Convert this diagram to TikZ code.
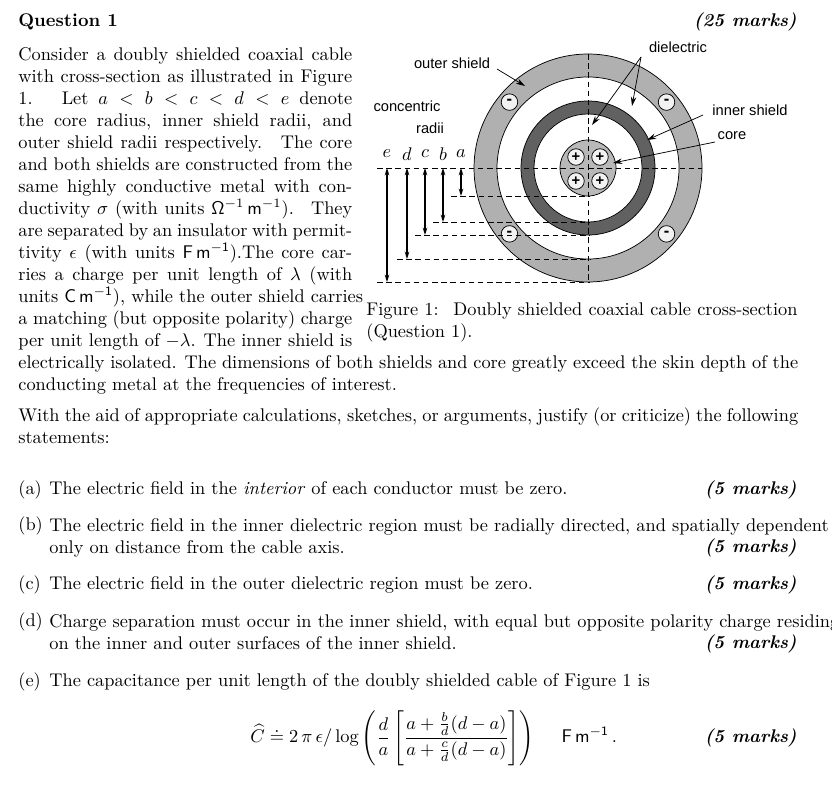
\documentclass[tikz,border=0pt]{standalone}
\usepackage{fontspec}
\newfontfamily\arial{Liberation Sans}
\usetikzlibrary{arrows.meta,calc}
\begin{document}
\begin{tikzpicture}[x=0.545pt,y=-0.545pt,
  txt/.style={inner sep=0pt,align=justify,font=\fontsize{10}{12}\selectfont},
  lab/.style={inner sep=0pt,font=\arial\fontsize{8}{9.5}\selectfont},
  mk/.style={inner sep=0pt,anchor=base east,font=\fontsize{10}{12}\selectfont\bfseries\itshape},
  ptr/.style={-{Stealth[length=5pt,width=3pt]},thin},
  dim/.style={{Stealth[length=4pt,width=2.5pt]}-{Stealth[length=4pt,width=2.5pt]},semithick},
  dsh/.style={densely dashed,thin},
  chg/.style={circle,draw,fill=white!90!gray,minimum size=9pt,inner sep=0pt,font=\arial\bfseries\fontsize{8}{8}\selectfont}]
\useasboundingbox (0,0) rectangle (832,787);
% header
\node[inner sep=0pt,anchor=base west,font=\fontsize{10}{12}\selectfont\bfseries] (q) at (18,27) {Question 1};
\node[mk] (m0) at (797,27) {(25 marks)};
% left column
\node[txt,anchor=north west,text width=182pt] (p1) at (18,47) {Consider a doubly shielded coaxial cable\linebreak
with cross-section as illustrated in Figure\linebreak
1. \ Let $a<b<c<d<e$ denote\linebreak
the core radius, inner shield radii, and\linebreak
outer shield radii respectively. \ The core\linebreak
and both shields are constructed from the\linebreak
same highly conductive metal with con-\linebreak
ductivity $\sigma$ (with units \textsf{Ω}$^{-1}\,\mathsf{m}^{-1}$). \ They\linebreak
are separated by an insulator with permit-\linebreak
tivity $\epsilon$ (with units $\mathsf{F\,m^{-1}}$).The core car-\linebreak
ries a charge per unit length of $\lambda$ (with\linebreak
\mbox{units $\mathsf{C\,m^{-1}}$), while the outer shield carries}\linebreak
a matching (but opposite polarity) charge\linebreak
per unit length of $-\lambda$. The inner shield is};
\node[txt,anchor=north west,text width=425pt] (p2) at (18,355) {electrically isolated. The dimensions of both shields and core greatly exceed the skin depth of the conducting metal at the frequencies of interest.};
\node[txt,anchor=north west,text width=425pt] (p3) at (18,407) {With the aid of appropriate calculations, sketches, or arguments, justify (or criticize) the following statements:};
% caption
\node[txt,anchor=north west,text width=235pt] (cap) at (366,302) {Figure 1: \ Doubly shielded coaxial cable cross-section (Question 1).};
% items
\foreach \l/\y in {a/494,b/530,c/589,d/626,e/686}{\node[inner sep=0pt,anchor=base west,font=\fontsize{10}{12}\selectfont] (l\l) at (18,\y) {(\l)};}
\node[txt,anchor=base west,text width=1pt,align=left] (ia) at (49,494) {\mbox{The electric field in the \textit{interior} of each conductor must be zero.}};
\node[mk] (ma) at (797,494) {(5 marks)};
\node[txt,anchor=north west,text width=408pt] (ib) at (49,518) {\mbox{The electric field in the inner dielectric region must be radially directed, and spatially dependent}\linebreak only on distance from the cable axis.};
\node[mk] (mb) at (797,552) {(5 marks)};
\node[txt,anchor=base west,text width=1pt,align=left] (ic) at (49,589) {\mbox{The electric field in the outer dielectric region must be zero.}};
\node[mk] (mc) at (797,589) {(5 marks)};
\node[txt,anchor=north west,text width=408pt] (id) at (49,614) {\mbox{Charge separation must occur in the inner shield, with equal but opposite polarity charge residing}\linebreak on the inner and outer surfaces of the inner shield.};
\node[mk] (md) at (797,648) {(5 marks)};
\node[txt,anchor=base west,text width=1pt,align=left] (ie) at (49,686) {\mbox{The capacitance per unit length of the doubly shielded cable of Figure 1 is}};
\node[inner sep=0pt,anchor=west,font=\fontsize{10}{12}\selectfont] (fm) at (250,738) {$\displaystyle \widehat{C}\doteq 2\,\pi\,\epsilon/\log\left(\frac{d}{a}\left[\frac{a+\frac{b}{d}(d-a)}{a+\frac{c}{d}(d-a)}\right]\right)\quad\ \mathsf{F\,m^{-1}}\,.$};
\node[mk] (me) at (797,742) {(5 marks)};
% figure
\coordinate (o) at (588,168);
\fill[gray!62,draw=black] (o) circle[radius=114];
\fill[white,draw=black] (o) circle[radius=91];
\fill[black!62,draw=black] (o) circle[radius=67];
\fill[white,draw=black] (o) circle[radius=54];
\fill[black!28,draw=black] (o) circle[radius=28];
\draw[dsh] (588,54) -- (588,282);
\draw[dsh] (377,168) -- (702,168);
\foreach \n/\dx/\dy in {pl1/-12/-11,pl2/12/-11,pl3/-12/13,pl4/12/13}{\node[chg] (\n) at ($(o)+(\dx,\dy)$) {+};}
\foreach \n/\a in {n1/40,n2/140,n3/220,n4/320}{\node[chg,font=\arial\bfseries\fontsize{9}{9}\selectfont] (\n) at ($(o)+(\a:102.5)$) {-};}
% dims
\foreach \n/\x/\r in {a/461/28,b/443/54,c/425/67,d/407/91,e/387/114}{
  \node[inner sep=0pt,font=\fontsize{10}{12}\selectfont\itshape] (t\n) at (\x,154) {$\n$};
  \coordinate (top\n) at (\x,168);
  \coordinate (bot\n) at (\x,168+\r);
  \draw[dsh] (\x-10,168+\r) -- (590,168+\r);
  \draw[dim] (top\n) -- (bot\n);}
% labels
\node[lab] (los) at (452,63) {outer shield};
\node[lab] (ldi) at (678,47) {dielectric};
\node[lab] (lcr) at (407,106) {concentric};
\node[lab] (lrd) at (430,128) {radii};
\node[lab] (lis) at (750,110) {inner shield};
\node[lab] (lco) at (732,136) {core};
\coordinate (a1) at (525,86);
\coordinate (a2) at (592,125);
\coordinate (a3) at (632,106);
\coordinate (a4) at (647,140);
\coordinate (a5) at (613,163);
\draw[ptr] (497,69) -- (a1);
\draw[ptr] (641,57) -- (a2);
\draw[ptr] (641,57) -- (a3);
\draw[ptr] (703,115) -- (a4);
\draw[ptr] (715,142) -- (a5);
\end{tikzpicture}
\end{document}
